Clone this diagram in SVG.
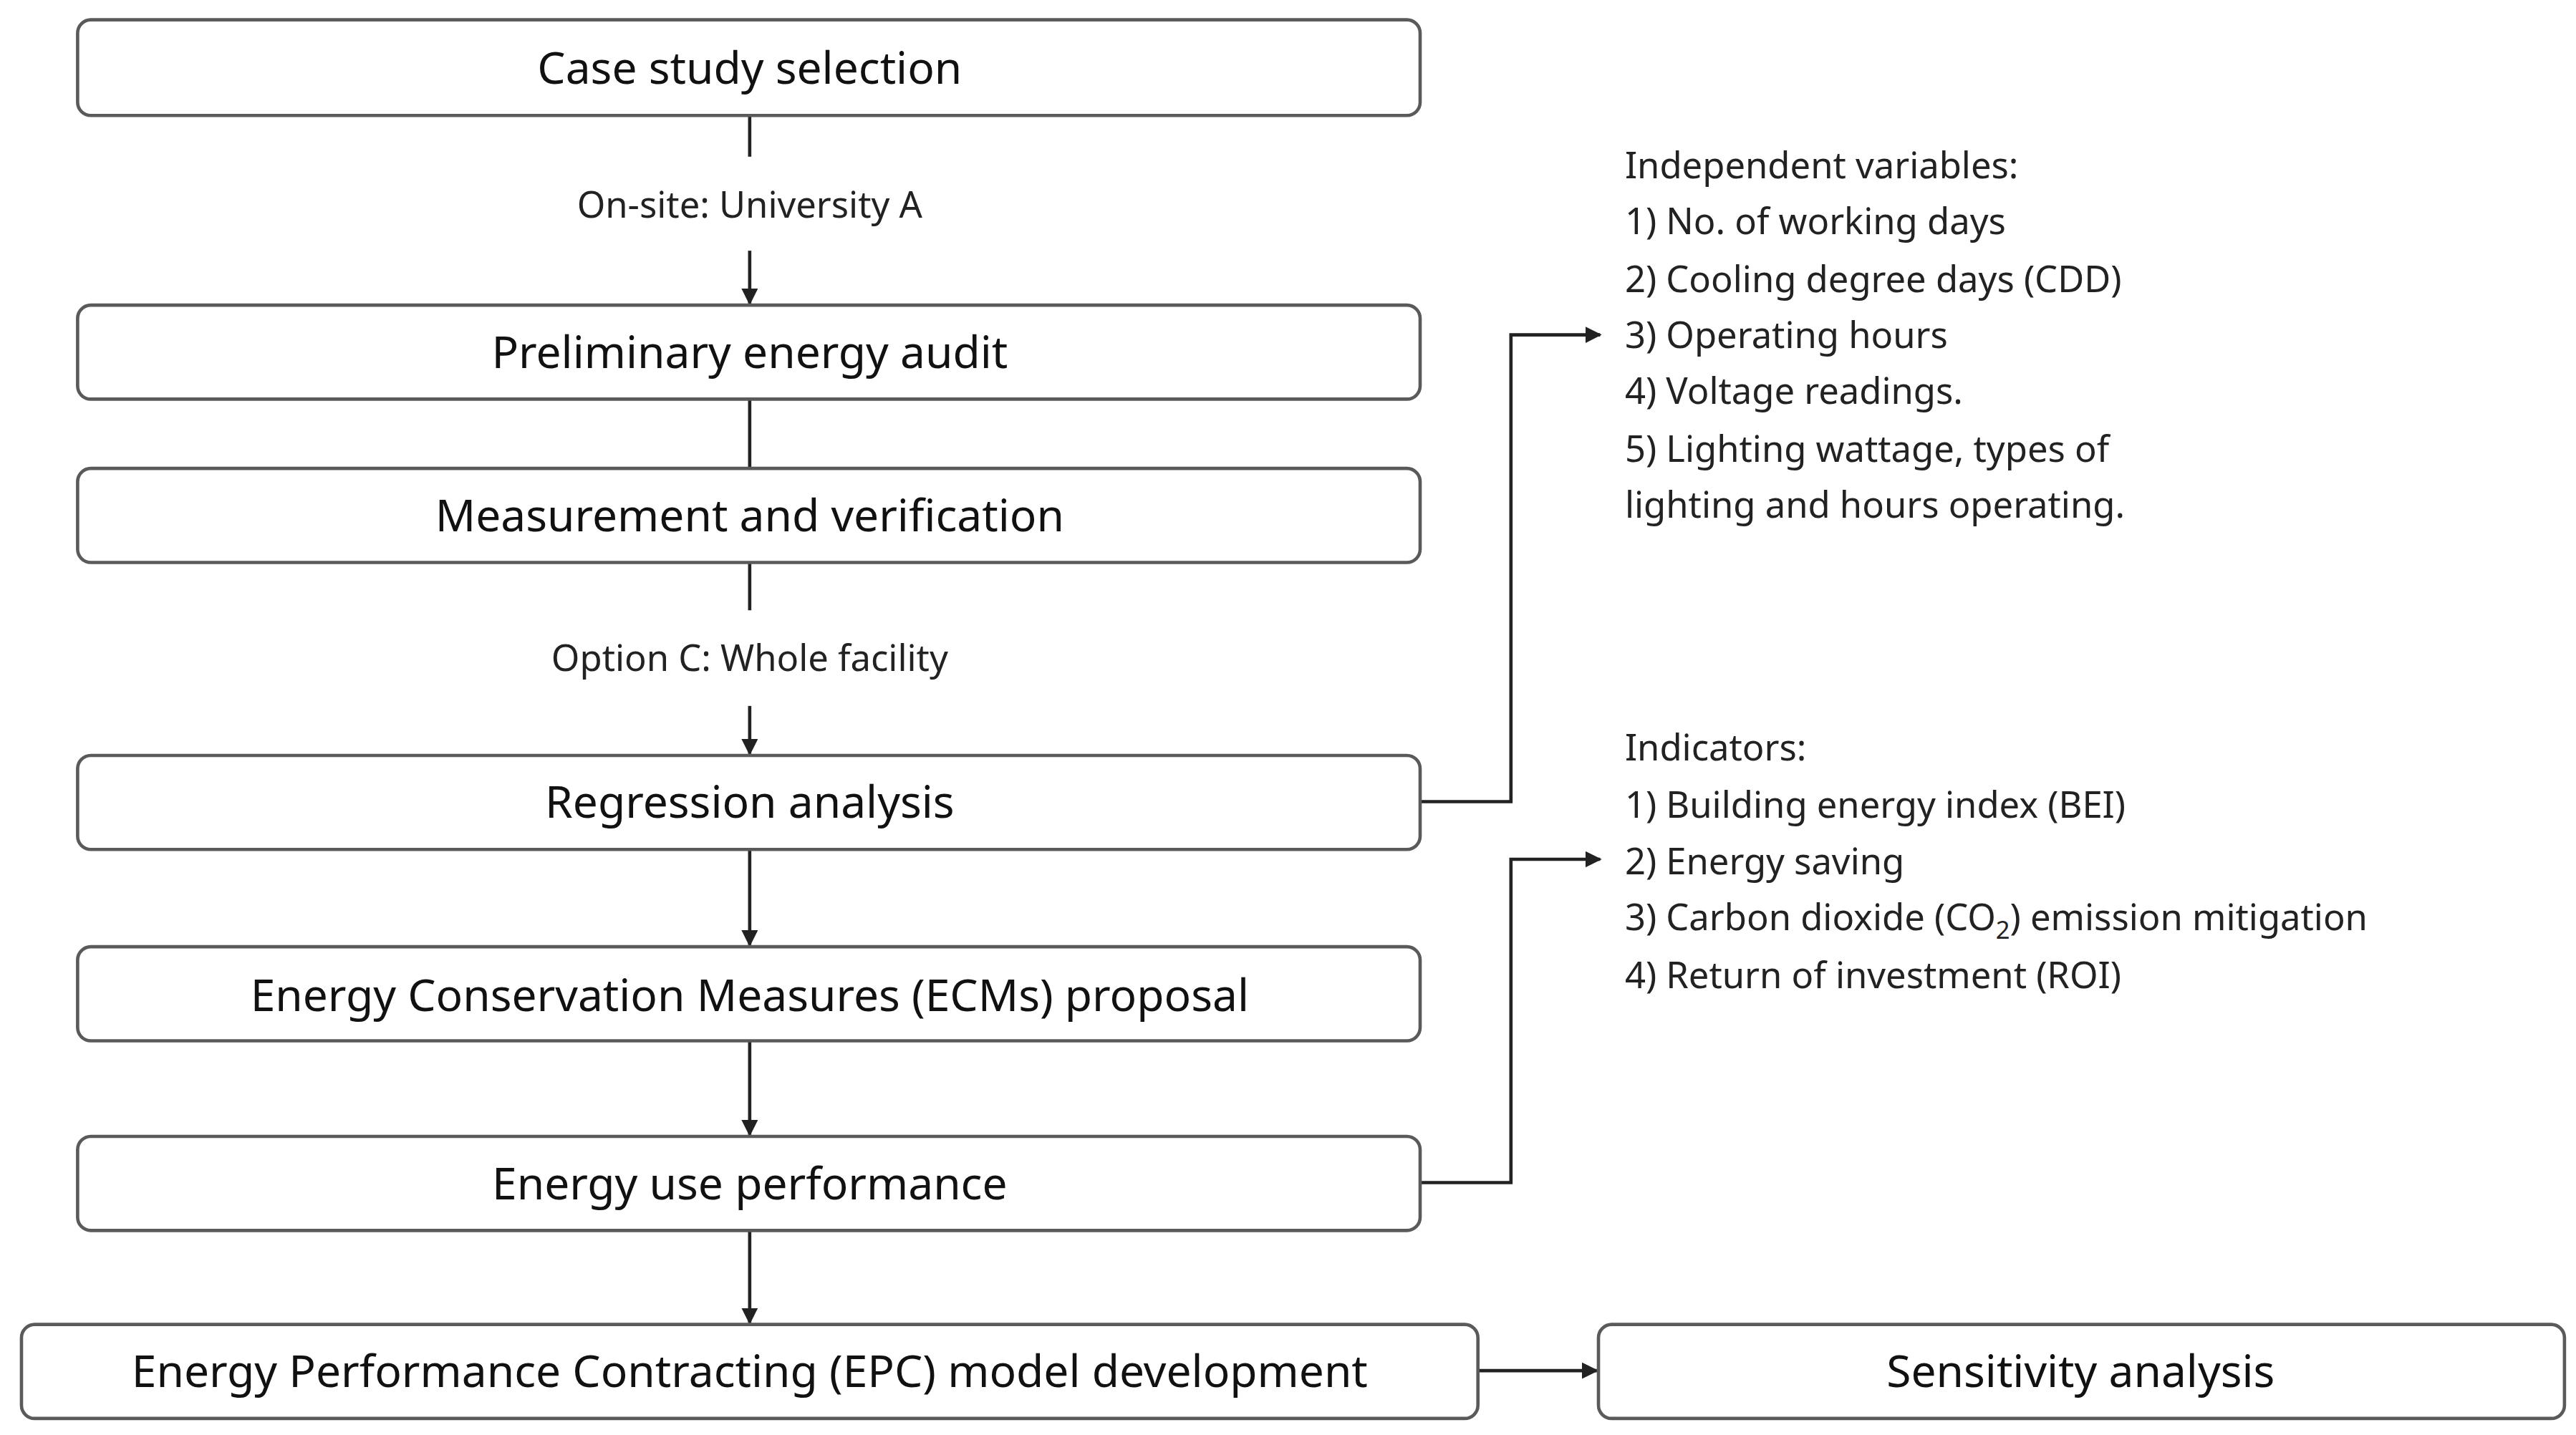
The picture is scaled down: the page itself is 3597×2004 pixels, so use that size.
<svg xmlns="http://www.w3.org/2000/svg" width="3597" height="2004" viewBox="0 0 3597 2004">
<style>
.b{fill:#fff;stroke:#5a5a5a;stroke-width:2}
.t{font-family:"Noto Sans","Liberation Sans",sans-serif;font-size:27px;fill:#111;text-anchor:middle}
.s{font-family:"Noto Sans","Liberation Sans",sans-serif;font-size:22px;fill:#222}
.sc{text-anchor:middle}
.c{fill:none;stroke:#222;stroke-width:2}
</style>
<defs><marker id="a" markerWidth="10" markerHeight="10" refX="9" refY="5" orient="auto" markerUnits="userSpaceOnUse"><path d="M0,0 L10,5 L0,10 z" fill="#222"/></marker></defs>
<rect width="3597" height="2004" fill="#fff"/>
<g transform="scale(2.3058,2.3034)">
<g id="connectors">
<path class="c" d="M454,70 V95"/>
<path class="c" d="M454,152 V184" marker-end="url(#a)"/>
<path class="c" d="M454,242 V284"/>
<path class="c" d="M454,341 V370"/>
<path class="c" d="M454,428 V457" marker-end="url(#a)"/>
<path class="c" d="M454,515 V573" marker-end="url(#a)"/>
<path class="c" d="M454,631 V688" marker-end="url(#a)"/>
<path class="c" d="M454,746 V802" marker-end="url(#a)"/>
<path class="c" d="M895,831 H967" marker-end="url(#a)"/>
<path class="c" d="M860,486 H915 V203 H969" marker-end="url(#a)"/>
<path class="c" d="M860,717 H915 V521 H969" marker-end="url(#a)"/>
<text class="s sc" x="454" y="132">On-site: University A</text>
<text class="s sc" x="454" y="407">Option C: Whole facility</text>
</g>
<g id="n1"><rect class="b" x="47" y="12" width="813" height="58" rx="8"/><text class="t" x="454" y="51">Case study selection</text></g>
<g id="n2"><rect class="b" x="47" y="185" width="813" height="57" rx="8"/><text class="t" x="454" y="223">Preliminary energy audit</text></g>
<g id="n3"><rect class="b" x="47" y="284" width="813" height="57" rx="8"/><text class="t" x="454" y="322">Measurement and verification</text></g>
<g id="n4"><rect class="b" x="47" y="458" width="813" height="57" rx="8"/><text class="t" x="454" y="496">Regression analysis</text></g>
<g id="n5"><rect class="b" x="47" y="574" width="813" height="57" rx="8"/><text class="t" x="454" y="613">Energy Conservation Measures (ECMs) proposal</text></g>
<g id="n6"><rect class="b" x="47" y="689" width="813" height="57" rx="8"/><text class="t" x="454" y="727">Energy use performance</text></g>
<g id="n7"><rect class="b" x="13" y="803" width="882" height="57" rx="8"/><text class="t" x="454" y="841">Energy Performance Contracting (EPC) model development</text></g>
<g id="n8"><rect class="b" x="968" y="803" width="585" height="57" rx="8"/><text class="t" x="1260" y="841">Sensitivity analysis</text></g>
<g id="vars" class="s">
<text x="984" y="108">Independent variables:</text>
<text x="984" y="142">1) No. of working days</text>
<text x="984" y="177">2) Cooling degree days (CDD)</text>
<text x="984" y="211">3) Operating hours</text>
<text x="984" y="245">4) Voltage readings.</text>
<text x="984" y="280">5) Lighting wattage, types of</text>
<text x="984" y="314">lighting and hours operating.</text>
</g>
<g id="ind" class="s">
<text x="984" y="461">Indicators:</text>
<text x="984" y="496">1) Building energy index (BEI)</text>
<text x="984" y="530">2) Energy saving</text>
<text x="984" y="564">3) Carbon dioxide (CO<tspan font-size="15" dy="5">2</tspan><tspan dy="-5">) emission mitigation</tspan></text>
<text x="984" y="599">4) Return of investment (ROI)</text>
</g>
</g>
</svg>
